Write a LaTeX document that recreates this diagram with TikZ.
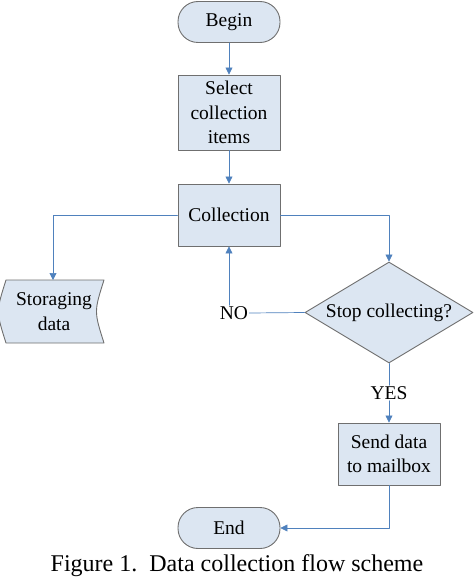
\documentclass[tikz,border=0pt]{standalone}
\usepackage{fontspec}
\setmainfont{Liberation Serif}
\usetikzlibrary{arrows.meta}
\usetikzlibrary{shapes.geometric}
\usetikzlibrary{positioning}
\definecolor{boxfill}{HTML}{DCE6F2}
\definecolor{boxline}{HTML}{6F6F6F}
\definecolor{flowline}{HTML}{4F81BD}
\tikzset{
  chart/.style={font=\fontsize{19.5}{24.5}\selectfont, align=center},
  terminal/.style={chart, draw=boxline, fill=boxfill, line width=0.9pt, rounded corners=20pt, minimum width=102pt, minimum height=41pt},
  process/.style={chart, draw=boxline, fill=boxfill, line width=0.9pt, minimum width=102pt, inner sep=2pt},
  decision/.style={chart, draw=boxline, fill=boxfill, line width=0.9pt, diamond, aspect=1.66, inner sep=0pt, minimum width=168pt, minimum height=101pt},
  flow/.style={draw=flowline, line width=0.7pt},
  flowarrow/.style={flow, ->}
}
\begin{document}
\begin{tikzpicture}[line cap=round,line join=round,>={Triangle[length=7pt,width=7pt]},x=1pt,y=-1pt]
\useasboundingbox (0,0) rectangle (474,578);
% nodes
\node[terminal] (begin) at (229,22) {Begin};
\node[process, minimum height=75pt] (select) at (229,112.5) {Select\\collection\\items};
\node[process, minimum height=62pt] (coll) at (229,215) {Collection};
\node[decision] (stop) at (389,312.5) {Stop collecting?};
\node[chart, inner sep=1pt] (no) at (234,313) {NO};
\node[chart, inner sep=1pt] (yes) at (389,393) {YES};
\node[process, minimum height=62pt] (send) at (389,454) {Send data\\to mailbox};
\node[terminal] (end) at (229,528) {End};
\node[font=\fontsize{24}{28}\selectfont] (caption) at (237,566) {Figure 1.\ \ Data collection flow scheme};
% stored data
\draw[draw=boxline, fill=boxfill, line width=0.9pt] (6,280) -- (104,280)
  .. controls (94,311.5) .. (104,343) -- (6,343)
  .. controls (-4,311.5) .. cycle;
\node[chart] (store) at (54,311.5) {Storaging\\data};
\coordinate (storetop) at (53,280);
% connectors
\draw[flowarrow] (begin) -- (select);
\draw[flowarrow] (select) -- (coll);
\draw[flowarrow] (coll.west) -| (storetop);
\draw[flowarrow] (coll.east) -| (stop.north);
\draw[flow] (stop.west) -- (no.east);
\draw[flowarrow] (coll.south |- no.north) -- (coll.south);
\draw[flow] (stop.south) -- (yes.north);
\draw[flowarrow] (yes.south) -- (send.north);
\draw[flowarrow] (send.south) |- (end.east);
\end{tikzpicture}
\end{document}
